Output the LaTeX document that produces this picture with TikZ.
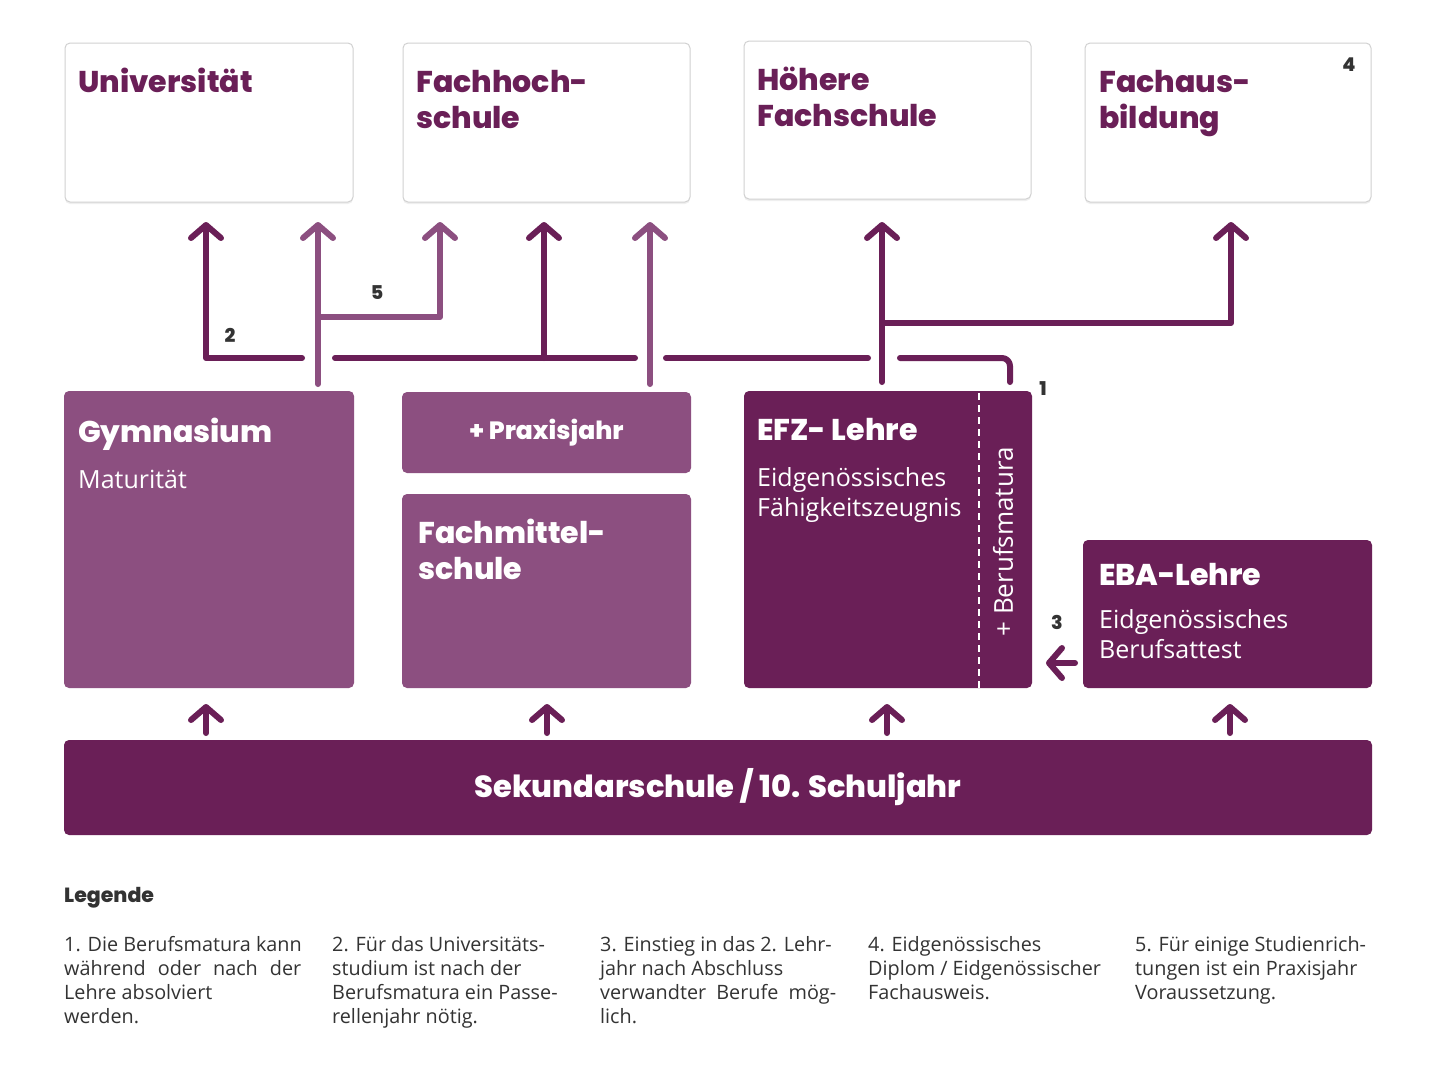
\documentclass[tikz,border=0pt]{standalone}
\usepackage{fontspec}
\setmainfont{Open Sans}
\newfontfamily\headfont{Poppins}[BoldFont={* ExtraBold}]
\usetikzlibrary{arrows.meta,shadows}
\definecolor{dk}{HTML}{6A1F57}
\definecolor{lt}{HTML}{8C4F80}
\definecolor{txt}{HTML}{333333}
\begin{document}
\begin{tikzpicture}[x=1pt,y=-1pt,
  topbox/.style={draw=black!18, line width=1pt, fill=white, rounded corners=5pt, inner sep=0pt,
    drop shadow={shadow xshift=0pt, shadow yshift=-2pt, opacity=0.12}},
  fbox/.style={fill=#1, rounded corners=5pt, inner sep=0pt},
  head/.style={font=\headfont\bfseries\fontsize{30}{36}\selectfont, anchor=base west, inner sep=0pt},
  sub/.style={font=\fontsize{25}{28}\selectfont, text=white, anchor=base west, inner sep=0pt},
  num/.style={font=\headfont\bfseries\fontsize{19}{20}\selectfont, text=txt, inner sep=0pt},
  leg/.style={font=\fontsize{19.8}{24}\selectfont, text=txt, anchor=base west, inner sep=0pt},
  ln/.style={draw=#1, line width=6pt, line cap=round, line join=round},
  arr/.style={ln=#1, -{Straight Barb[round, length=13pt, width=30pt]}}
]
\useasboundingbox (0,0) rectangle (1436,1080);
\fill[white] (0,0) rectangle (1436,1080);

% top boxes
\node[topbox, minimum width=288pt, minimum height=159pt] (uni) at (209,122.5) {};
\node[topbox, minimum width=287pt, minimum height=159pt] (fh) at (546.5,122.5) {};
\node[topbox, minimum width=287pt, minimum height=158pt] (hf) at (887.5,120) {};
\node[topbox, minimum width=286pt, minimum height=159pt] (fa) at (1228,122.5) {};
\node[head, text=dk] (tuni) at (78,92) {Universität};
\node[head, text=dk] (tfh1) at (416,92) {Fachhoch-};
\node[head, text=dk] (tfh2) at (416,128) {schule};
\node[head, text=dk] (thf1) at (757,90) {Höhere};
\node[head, text=dk] (thf2) at (757,126) {Fachschule};
\node[head, text=dk] (tfa1) at (1099,92) {Fachaus-};
\node[head, text=dk] (tfa2) at (1099,128) {bildung};
\node[num] (n4) at (1349,65) {4};

% middle boxes
\node[fbox=lt, minimum width=290pt, minimum height=297pt] (gym) at (209,539.5) {};
\node[fbox=lt, minimum width=289pt, minimum height=81pt] (prax) at (546.5,432.5) {};
\node[fbox=lt, minimum width=289pt, minimum height=194pt] (fms) at (546.5,591) {};
\node[fbox=dk, minimum width=288pt, minimum height=297pt] (efz) at (888,539.5) {};
\node[fbox=dk, minimum width=289pt, minimum height=148pt] (eba) at (1227.5,614) {};
\node[fbox=dk, minimum width=1308pt, minimum height=95pt] (sek) at (718,787.5) {};

\draw[white, line width=2pt, dash pattern=on 7pt off 5pt] (979,393) -- (979,688);

\node[head, text=white] (tgym) at (78,442) {Gymnasium};
\node[sub] (tmat) at (78,488) {Maturität};
\node[head, text=white, anchor=base, font=\headfont\bfseries\fontsize{25}{26}\selectfont] (tprax) at (546.5,439) {+ Praxisjahr};
\node[head, text=white] (tfms1) at (418,543) {Fachmittel-};
\node[head, text=white] (tfms2) at (418,579) {schule};
\node[head, text=white] (tefz) at (757,440) {EFZ- Lehre};
\node[sub] (tefz1) at (757,486) {Eidgenössisches};
\node[sub] (tefz2) at (757,516) {Fähigkeitszeugnis};
\node[sub, anchor=center, rotate=90, font=\fontsize{26}{28}\selectfont] (tbm) at (1003,542) {+ Berufsmatura};
\node[head, text=white] (teba) at (1099,585) {EBA-Lehre};
\node[sub] (teba1) at (1099,628) {Eidgenössisches};
\node[sub] (teba2) at (1099,658) {Berufsattest};
\node[head, text=white, anchor=center, font=\headfont\bfseries\fontsize{30.5}{34}\selectfont] (tsek) at (718,787) {Sekundarschule / 10. Schuljahr};

% coordinates
\coordinate (a2) at (206,222);
\coordinate (h2) at (302,358);
\coordinate (h3) at (335,358);
\coordinate (h4) at (635,358);
\coordinate (h5) at (666,358);
\coordinate (h6) at (868,358);
\coordinate (h7) at (900,358);
\coordinate (bm) at (1010,382);
\coordinate (fhd) at (544,358);
\coordinate (fhdt) at (544,222);
\coordinate (ef) at (882,382);
\coordinate (eft) at (882,222);
\coordinate (efb) at (882,323);
\coordinate (fat) at (1231,222);
\coordinate (g1) at (318,384);
\coordinate (g1t) at (318,222);
\coordinate (g2) at (318,317);
\coordinate (g2t) at (440,222);
\coordinate (p1) at (650,384);
\coordinate (p1t) at (650,222);

% dark connectors
\draw[arr=dk] (h2) -| (a2);
\draw[ln=dk] (h3) -- (h4);
\draw[arr=dk] (fhd) -- (fhdt);
\draw[ln=dk] (h5) -- (h6);
\draw[ln=dk, rounded corners=8pt] (h7) -| (bm);
\draw[arr=dk] (ef) -- (eft);
\draw[arr=dk] (efb) -| (fat);
% light connectors
\draw[arr=lt] (g1) -- (g1t);
\draw[arr=lt] (g2) -| (g2t);
\draw[arr=lt] (p1) -- (p1t);

\node[num] (n2) at (230,335) {2};
\node[num] (n5) at (377,293) {5};
\node[num] (n1) at (1043,389) {1};
\node[num] (n3) at (1057,622) {3};

% bottom arrows
\coordinate (b1) at (206,733); \coordinate (b1t) at (206,704);
\coordinate (b2) at (547,733); \coordinate (b2t) at (547,704);
\coordinate (b3) at (887,733); \coordinate (b3t) at (887,704);
\coordinate (b4) at (1230,733); \coordinate (b4t) at (1230,704);
\draw[arr=dk] (b1) -- (b1t);
\draw[arr=dk] (b2) -- (b2t);
\draw[arr=dk] (b3) -- (b3t);
\draw[arr=dk] (b4) -- (b4t);
\coordinate (e3) at (1075,663); \coordinate (e3t) at (1046,663);
\draw[arr=dk] (e3) -- (e3t);

% legend
\node[leg, font=\headfont\bfseries\fontsize{20.5}{24}\selectfont] (lg) at (64,902) {Legende};
\node[leg] (l11) at (64,951) {1. Die Berufsmatura kann};
\node[leg] (l12) at (64,975) {\makebox[237pt][s]{während oder nach der}};
\node[leg] (l13) at (64,999) {Lehre absolviert};
\node[leg] (l14) at (64,1023) {werden.};
\node[leg] (l21) at (332,951) {2. Für das Universitäts-};
\node[leg] (l22) at (332,975) {studium ist nach der};
\node[leg] (l23) at (332,999) {Berufsmatura ein Passe-};
\node[leg] (l24) at (332,1023) {rellenjahr nötig.};
\node[leg] (l31) at (600,951) {3. Einstieg in das 2. Lehr-};
\node[leg] (l32) at (600,975) {jahr nach Abschluss};
\node[leg] (l33) at (600,999) {\makebox[236pt][s]{verwandter Berufe mög-}};
\node[leg] (l34) at (600,1023) {lich.};
\node[leg] (l41) at (868,951) {4. Eidgenössisches};
\node[leg] (l42) at (868,975) {Diplom / Eidgenössischer};
\node[leg] (l43) at (868,999) {Fachausweis.};
\node[leg] (l51) at (1135,951) {5. Für einige Studienrich-};
\node[leg] (l52) at (1135,975) {tungen ist ein Praxisjahr};
\node[leg] (l53) at (1135,999) {Voraussetzung.};
\end{tikzpicture}
\end{document}
